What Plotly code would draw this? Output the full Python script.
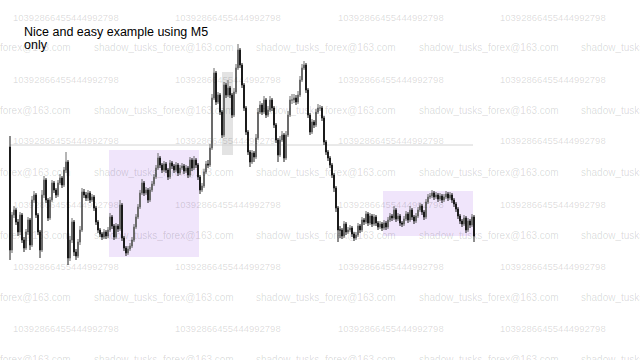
import plotly.graph_objects as go

# ---- data (price units) ----
first_open = 213
closes = [110, 145, 150, 138, 128, 145, 120, 112, 128, 140,
          115, 160, 165, 145, 128, 110, 165, 180, 160, 142,
          160, 177, 170, 165, 177, 182, 175, 190, 198, 102,
          120, 138, 108, 104, 118, 130, 168, 165, 162, 167,
          160, 163, 152, 138, 130, 126, 123, 128, 124, 130,
          143, 134, 123, 134, 131, 155, 122, 112, 107, 111,
          114, 120, 133, 143, 153, 167, 177, 167, 170, 160,
          170, 176, 183, 192, 202, 195, 190, 196, 190, 183,
          197, 194, 190, 195, 187, 192, 194, 189, 192, 185,
          200, 192, 200, 195, 183, 170, 174, 188, 196, 195,
          212, 262, 287, 258, 265, 248, 225, 275, 265, 272,
          265, 245, 268, 292, 310, 295, 275, 252, 228, 208,
          198, 207, 203, 222, 248, 255, 248, 260, 245, 250,
          260, 252, 235, 220, 205, 220, 225, 202, 225, 245,
          260, 260, 262, 258, 265, 280, 292, 295, 270, 245,
          228, 238, 235, 248, 252, 252, 242, 218, 208, 202,
          195, 185, 172, 152, 130, 130, 124, 136, 128, 130,
          132, 126, 122, 125, 134, 130, 140, 138, 146, 137,
          144, 136, 143, 137, 133, 136, 132, 137, 133, 140,
          144, 142, 150, 141, 144, 137, 136, 141, 146, 140,
          150, 143, 139, 144, 150, 154, 148, 143, 158, 163,
          164, 167, 163, 165, 161, 164, 160, 163, 166, 162,
          165, 160, 156, 151, 144, 139, 136, 142, 130, 139,
          135, 143, 124]
highs = [224, 148, 154, 152, 141, 148, 147, 123, 131, 143,
         142, 164, 169, 167, 147, 130, 170, 184, 182, 162,
         163, 180, 179, 172, 180, 186, 184, 193, 208, 200,
         124, 142, 140, 111, 121, 134, 172, 171, 168, 170,
         169, 166, 165, 154, 140, 132, 128, 131, 130, 133,
         147, 145, 136, 137, 136, 160, 157, 124, 114, 114,
         117, 123, 136, 146, 156, 170, 181, 179, 173, 172,
         173, 179, 186, 195, 207, 204, 197, 199, 198, 192,
         200, 199, 196, 198, 197, 195, 197, 196, 195, 194,
         203, 202, 204, 202, 197, 185, 177, 191, 199, 200,
         216, 266, 292, 289, 268, 267, 250, 278, 277, 280,
         274, 267, 272, 296, 316, 312, 297, 277, 254, 230,
         210, 210, 209, 226, 252, 259, 257, 264, 262, 254,
         264, 262, 254, 237, 222, 224, 229, 227, 229, 249,
         264, 266, 266, 265, 269, 284, 296, 299, 297, 272,
         247, 241, 240, 251, 256, 255, 254, 244, 220, 210,
         204, 197, 187, 174, 154, 134, 132, 139, 138, 133,
         135, 134, 128, 128, 137, 136, 143, 142, 149, 148,
         147, 146, 146, 145, 139, 139, 138, 140, 139, 143,
         147, 146, 154, 152, 147, 146, 139, 144, 149, 148,
         154, 152, 145, 147, 153, 157, 156, 150, 161, 166,
         167, 170, 169, 168, 167, 167, 166, 166, 169, 168,
         168, 167, 162, 158, 153, 146, 141, 145, 144, 142,
         141, 146, 145]
lows = [100, 107, 142, 135, 124, 125, 117, 108, 110, 125,
        110, 113, 157, 142, 125, 102, 108, 162, 157, 139,
        140, 158, 167, 162, 163, 175, 172, 173, 187, 95,
        99, 117, 104, 100, 102, 115, 128, 162, 159, 159,
        157, 158, 149, 135, 127, 123, 120, 121, 121, 122,
        128, 131, 120, 121, 128, 129, 119, 109, 104, 105,
        109, 112, 118, 131, 141, 151, 165, 164, 165, 157,
        158, 168, 174, 181, 190, 192, 187, 188, 187, 180,
        181, 191, 187, 188, 184, 185, 190, 186, 187, 182,
        183, 189, 190, 192, 180, 166, 168, 172, 186, 192,
        193, 210, 260, 255, 256, 245, 222, 223, 262, 263,
        262, 242, 243, 266, 290, 292, 272, 249, 225, 205,
        193, 196, 198, 201, 220, 246, 245, 246, 242, 243,
        248, 249, 232, 217, 198, 203, 218, 198, 200, 223,
        243, 256, 257, 255, 256, 263, 278, 290, 267, 242,
        225, 226, 232, 233, 246, 249, 239, 215, 205, 199,
        192, 182, 168, 148, 118, 122, 121, 122, 125, 126,
        128, 123, 119, 120, 123, 127, 128, 135, 136, 134,
        135, 133, 134, 134, 130, 131, 129, 130, 130, 131,
        138, 139, 140, 138, 139, 134, 133, 134, 139, 137,
        138, 140, 136, 137, 142, 148, 145, 140, 141, 156,
        161, 162, 160, 161, 158, 159, 157, 158, 161, 159,
        160, 157, 153, 148, 141, 136, 133, 134, 127, 128,
        132, 133, 118]
opens = [first_open] + closes[:-1]
bars = list(range(len(closes)))

title_lines = ["Nice and easy example using M5", "only"]

# zones: (x0, x1, y0, y1, colour) in bar / price units
zones = [(49.5, 94.5, 103, 210, "#f0e5fb"),
         (186.5, 231.5, 124, 169, "#f0e5fb"),
         (106, 111.5, 205, 288, "#e3e3e3")]
level = (0, 231.5, 215)

wm_id = "10392866455444992798"
wm_mail = "shadow_tusks_forex@163.com"
wm_id_rows = [17, 79, 141, 204, 266, 328]
wm_id_cols = [11, 173, 336, 498]
wm_mail_rows = [48, 110, 172, 235, 297, 359]
wm_mail_cols = [-71, 92, 254, 417, 579]

W, H = 640, 360

fig = go.Figure()
fig.add_trace(go.Candlestick(
    x=bars, open=opens, high=highs, low=lows, close=closes,
    increasing=dict(line=dict(color="#6a6a6a", width=1), fillcolor="#ffffff"),
    decreasing=dict(line=dict(color="#1a1a1a", width=1), fillcolor="#1a1a1a"),
    whiskerwidth=0, showlegend=False, hoverinfo="skip"))

shapes = []
for x0, x1, y0, y1, c in zones:
    shapes.append(dict(type="rect", xref="x", yref="y", x0=x0, x1=x1, y0=y0, y1=y1,
                       fillcolor=c, line=dict(width=0), layer="below"))
shapes.append(dict(type="line", xref="x", yref="y", x0=level[0], x1=level[1],
                   y0=level[2], y1=level[2], line=dict(color="#d4d4d4", width=1),
                   layer="below"))

ann = []
for r in wm_id_rows:
    for c in wm_id_cols:
        ann.append(dict(text=wm_id, xref="paper", yref="paper", x=c / W, y=1 - r / H,
                        xanchor="left", yanchor="middle", showarrow=False,
                        font=dict(family="Liberation Sans", size=9.5, color="rgba(0,0,0,0.15)")))
for r in wm_mail_rows:
    for c in wm_mail_cols:
        ann.append(dict(text=wm_mail, xref="paper", yref="paper", x=c / W, y=1 - r / H,
                        xanchor="left", yanchor="middle", showarrow=False,
                        font=dict(family="Liberation Sans", size=10, color="rgba(0,0,0,0.15)")))
for t, yy in zip(title_lines, [32, 45]):
    ann.append(dict(text=t, xref="paper", yref="paper", x=22 / W, y=1 - yy / H,
                    xanchor="left", yanchor="middle", showarrow=False,
                    font=dict(family="Liberation Sans", size=12.5, color="#000000")))

fig.update_layout(
    width=W, height=H, margin=dict(l=0, r=0, t=0, b=0),
    paper_bgcolor="white", plot_bgcolor="white",
    xaxis=dict(range=[-5, 315], visible=False, rangeslider=dict(visible=False),
               showgrid=False, zeroline=False),
    yaxis=dict(range=[0, 360], visible=False, showgrid=False, zeroline=False),
    shapes=shapes, annotations=ann, showlegend=False)

fig.write_html("out.html")
